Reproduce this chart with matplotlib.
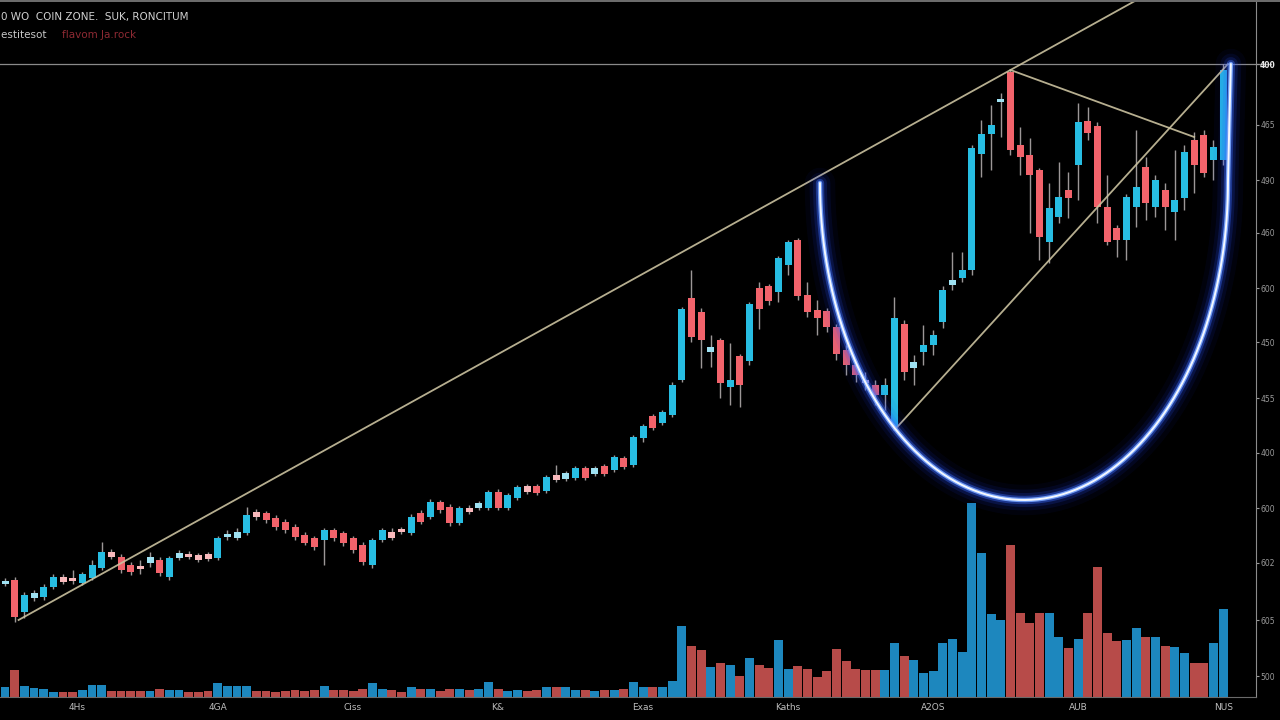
import matplotlib
matplotlib.use("Agg")
import matplotlib.pyplot as plt
import numpy as np
from matplotlib.lines import Line2D

# ---------------- data ----------------
opens = [116, 120, 88, 102, 103, 113, 123, 121, 117, 122, 132, 148, 143, 135, 133, 137, 140, 123, 142, 145,
         145, 146, 142, 163, 162, 167, 188, 187, 182, 178, 173, 165, 162, 160, 170, 167, 162, 155, 135, 160,
         168, 170, 167, 187, 183, 198, 193, 177, 192, 192, 192, 208, 192, 202, 214, 214, 209, 225, 221, 222,
         232, 226, 234, 230, 242, 235, 262, 284, 277, 285, 320, 402, 388, 348, 360, 313, 344, 339, 412, 414,
         408, 435, 460, 405, 390, 389, 373, 350, 335, 320, 315, 305, 273, 376, 332, 348, 355, 378, 415, 422,
         430, 546, 566, 598, 628, 555, 545, 530, 458, 483, 510, 535, 579, 574, 493, 472, 460, 493, 533, 493,
         510, 488, 502, 560, 565, 540, 540]
closes = [119, 83, 105, 107, 113, 123, 118, 119, 126, 135, 148, 143, 130, 128, 131, 143, 127, 142, 147, 143,
          140, 141, 162, 165, 168, 185, 183, 180, 173, 170, 163, 157, 153, 170, 162, 157, 150, 138, 160, 170,
          162, 168, 183, 178, 198, 190, 177, 192, 188, 197, 208, 192, 205, 213, 208, 207, 223, 220, 227, 232,
          222, 232, 226, 243, 233, 263, 274, 272, 288, 315, 391, 363, 360, 353, 317, 320, 315, 396, 391, 399,
          442, 458, 404, 388, 382, 373, 346, 335, 325, 317, 305, 315, 382, 328, 338, 355, 365, 410, 420, 430,
          552, 566, 575, 600, 550, 543, 525, 463, 492, 503, 502, 578, 567, 493, 458, 460, 503, 513, 497, 520,
          493, 500, 548, 535, 527, 553, 630]
highs = [122, 123, 108, 110, 116, 126, 126, 130, 128, 140, 158, 151, 146, 138, 140, 148, 143, 144, 150, 149,
         147, 148, 164, 170, 172, 193, 191, 189, 185, 181, 176, 168, 164, 172, 172, 169, 164, 158, 162, 172,
         172, 173, 186, 190, 201, 200, 196, 194, 195, 199, 210, 211, 207, 215, 216, 216, 225, 235, 229, 234,
         234, 234, 236, 245, 244, 265, 276, 286, 290, 318, 393, 430, 392, 365, 362, 357, 346, 398, 418, 416,
         444, 460, 462, 418, 400, 392, 376, 355, 340, 328, 320, 322, 403, 380, 345, 375, 370, 414, 448, 448,
         555, 580, 595, 607, 630, 573, 562, 532, 517, 538, 528, 597, 593, 578, 525, 475, 506, 570, 543, 525,
         517, 550, 555, 568, 570, 560, 636]
lows = [114, 78, 82, 99, 100, 111, 116, 116, 115, 120, 130, 141, 127, 125, 126, 133, 124, 120, 140, 141,
        138, 139, 140, 160, 160, 165, 180, 177, 170, 167, 160, 155, 150, 135, 159, 154, 147, 135, 132, 158,
        160, 166, 165, 176, 181, 187, 174, 175, 186, 190, 190, 190, 190, 200, 206, 205, 207, 218, 219, 220,
        220, 224, 224, 228, 231, 233, 258, 270, 275, 283, 318, 358, 332, 333, 302, 295, 293, 335, 371, 395,
        398, 425, 400, 383, 365, 368, 340, 325, 318, 310, 295, 290, 270, 320, 315, 335, 345, 372, 410, 418,
        425, 523, 530, 563, 545, 525, 467, 440, 437, 477, 482, 500, 560, 477, 455, 443, 440, 473, 480, 483,
        470, 460, 490, 507, 523, 520, 535]
volumes = [10, 27, 11, 9, 8, 5, 5, 5, 7, 12, 12, 6, 6, 6, 6, 6, 8, 7, 7, 5,
           5, 6, 14, 11, 11, 11, 6, 6, 5, 6, 7, 6, 7, 11, 7, 7, 6, 8, 14, 8,
           7, 5, 10, 8, 8, 6, 8, 8, 7, 8, 15, 8, 6, 7, 6, 7, 10, 10, 10, 7,
           7, 6, 7, 7, 8, 15, 10, 10, 10,
           16, 71, 51, 47, 30, 34, 32, 21, 39, 32, 29, 57, 28, 31, 28, 20, 26, 48, 36, 28,
           27, 27, 27, 54, 41, 37, 24, 26, 54, 58, 45, 194, 144, 83, 77, 152, 84, 74, 84, 84,
           60, 49, 58, 84, 130, 64, 56, 57, 69, 60, 60, 51, 50, 44, 34, 34, 54, 88]

x_tick_pos = [7.5, 22, 36, 51, 66, 81, 96, 111, 126]
x_tick_labels = ["4Hs", "4GA", "Ciss", "K&", "Exas", "Kaths", "A2OS", "AUB", "NUS"]
y_tick_vals = [636, 575, 520, 467, 412, 358, 302, 247, 192, 137, 80, 24]
y_tick_labels = ["400", "465", "490", "460", "600", "450", "455", "400", "600", "602", "605", "500"]

title_line1 = "0 WO  COIN ZONE.  SUK, RONCITUM"
title_line2a = "estitesot "
title_line2b = "flavom Ja.rock"

# annotation anchors (index, price)
trend_rise_long = [(1.4, 80), (104, 630)]
trend_fall = [(104, 630), (123, 563)]
trend_rise_short = [(92, 270), (126.5, 636)]
resistance = 636
cup_left, cup_right, cup_rim, cup_bottom = 84.3, 126.5, 517, 200

# ---------------- styling ----------------
UP = "#27bde2"
DOWN = "#f2636b"
VUP = "#1f8fc9"
VDOWN = "#c2504e"
LINE = "#cbc2a0"

fig = plt.figure(figsize=(12.8, 7.2), dpi=100, facecolor="black")
rect = [0, 23 / 720, 1256 / 1280, 697 / 720]
axv = fig.add_axes(rect)
ax = fig.add_axes(rect, sharex=axv)
axv.set_facecolor("black")
ax.set_facecolor("none")

idx = np.arange(len(opens))
o = np.array(opens, float)
c = np.array(closes, float)
h = np.array(highs, float)
l = np.array(lows, float)
up = c >= o


def lighten(col, f):
    rgb = np.array(matplotlib.colors.to_rgb(col))
    return tuple(rgb + (1 - rgb) * f)


body_cols = []
for oo, cc, u in zip(o, c, up):
    base = UP if u else DOWN
    if abs(cc - oo) < 7:
        body_cols.append(lighten(base, 0.55))
    else:
        body_cols.append(base)

# volume
vcols = [VUP if u else VDOWN for u in up]
axv.bar(idx, volumes, width=0.92, color=vcols, alpha=0.95, linewidth=0)
axv.set_ylim(0, 697)
axv.axis("off")

# wicks and bodies
ax.vlines(idx, l, h, color="#b9b3b3", lw=1.0, alpha=0.85, zorder=2)
body_h = np.where(np.abs(c - o) < 3, 3, np.abs(c - o))
ax.bar(idx, body_h, bottom=np.minimum(o, c), width=0.72, color=body_cols, linewidth=0, zorder=3)


# trend lines
def extend(p0, p1, x_end):
    (x0, y0), (x1, y1) = p0, p1
    s = (y1 - y0) / (x1 - x0)
    return [x0, x_end], [y0, y0 + s * (x_end - x0)]


xs, ys = extend(*trend_rise_long, 140)
ax.plot(xs, ys, color=LINE, lw=1.3, alpha=0.9, zorder=4)
ax.plot(*zip(*trend_fall), color=LINE, lw=1.3, alpha=0.9, zorder=4)
ax.plot(*zip(*trend_rise_short), color=LINE, lw=1.3, alpha=0.9, zorder=4)
ax.plot([-1, 131], [resistance, resistance], color="#8a8a8a", lw=0.9, clip_on=False, zorder=1)

# glowing cup
t = np.linspace(np.pi, 2 * np.pi, 300)
cx = (cup_left + cup_right) / 2 + (cup_right - cup_left) / 2 * np.cos(t)
cy = cup_rim + (cup_rim - cup_bottom) * np.sin(t)
cx = np.append(cx, [cup_right + 0.15, cup_right + 0.3])
cy = np.append(cy, [580, resistance])
for lw, col, a in [(22, "#1a36ff", 0.05), (15, "#1f40ff", 0.09), (10, "#2a55ff", 0.16),
                   (6, "#3a6cff", 0.4), (3.2, "#7aa6ff", 0.9), (1.4, "#f4f8ff", 1.0)]:
    ax.plot(cx, cy, color=col, lw=lw, alpha=a, solid_capstyle="round", zorder=5)

# axes
ax.set_xlim(-0.52, 129.4)
ax.set_ylim(3, 700)
for side in ["left", "top"]:
    ax.spines[side].set_visible(False)
ax.spines["right"].set_color("#8c8c8c")
ax.spines["bottom"].set_color("#6a6a6a")
ax.yaxis.tick_right()
ax.set_yticks(y_tick_vals)
ax.set_yticklabels(y_tick_labels)
ax.tick_params(axis="y", colors="#9a9a9a", labelsize=5.5, length=2, pad=1)
for lab in ax.get_yticklabels()[:1]:
    lab.set_color("#e8e8e8")
    lab.set_fontweight("bold")
ax.set_xticks(x_tick_pos)
ax.set_xticklabels(x_tick_labels)
ax.tick_params(axis="x", colors="#bdbdbd", labelsize=6.5, length=0, pad=4)
axv.tick_params(length=0)

# top frame edge
fig.add_artist(Line2D([0, 1], [0.9985, 0.9985], color="#6e6e6e", lw=1.4, transform=fig.transFigure))

fig.text(0.001, 1 - 17 / 720, title_line1, color="#d0d0d0", fontsize=7.5, va="center", ha="left")
fig.text(0.001, 1 - 35 / 720, title_line2a, color="#c8c8c8", fontsize=7.5, va="center", ha="left")
fig.text(62 / 1280, 1 - 35 / 720, title_line2b, color="#8e2a33", fontsize=7.5, va="center", ha="left")

fig.savefig("out.png", dpi=100, facecolor="black")
